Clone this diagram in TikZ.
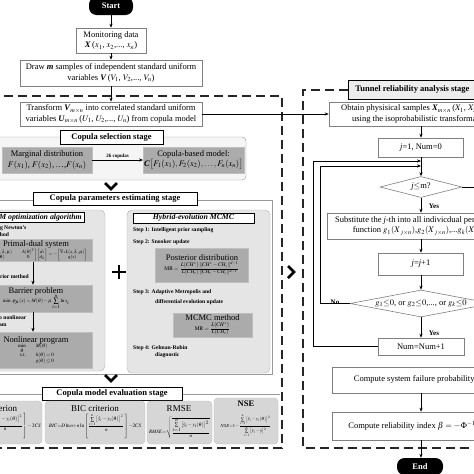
\documentclass[tikz,border=0pt]{standalone}
\usepackage{amsmath}
\usepackage{mathptmx}
\usepackage[no-math]{fontspec}
\setmainfont{Liberation Serif}
\usetikzlibrary{arrows.meta,shapes.geometric}
\tikzset{
  arr/.style={-{Stealth[length=4pt,width=3.2pt]}, line width=0.6pt, draw=black},
  plainline/.style={line width=0.6pt, draw=black},
  dashbox/.style={line width=1.1pt, dash pattern=on 9pt off 5pt, draw=black!85},
  wbox/.style={draw=black!50, line width=0.6pt, fill=white, inner sep=1pt, align=center,
    font=\fontsize{8.5}{10.5}\selectfont},
  gbox/.style={draw=black!25, line width=0.4pt, fill=black!33, inner sep=1pt, align=center,
    font=\fontsize{8.5}{10.5}\selectfont},
  stagebox/.style={draw=black, line width=0.9pt, fill=white, inner sep=1pt, align=center,
    font=\bfseries\fontsize{8.5}{10}\selectfont},
  tbox/.style={draw=black, line width=0.7pt, fill=white, inner ysep=1pt, inner xsep=3pt,
    minimum height=10, font=\bfseries\itshape\fontsize{7.8}{9}\selectfont},
  term/.style={fill=black, rounded corners=7.5pt, text=white, inner sep=1pt,
    font=\bfseries\fontsize{8.5}{10}\selectfont},
  diam/.style={diamond, draw=black!50, line width=0.6pt, fill=white, inner sep=0pt,
    font=\fontsize{8.5}{10}\selectfont},
  panel/.style={draw=black!30, line width=0.4pt, fill=black!10, rounded corners=5pt},
  frame/.style={draw=black!40, line width=0.4pt},
  evpanel/.style={draw=black!25, line width=0.4pt, fill=black!16, rounded corners=4pt},
  evtitle/.style={inner sep=0pt, font=\fontsize{9}{10}\selectfont},
  evform/.style={inner sep=0pt, font=\fontsize{5.2}{6}\selectfont},
  steptxt/.style={font=\bfseries\fontsize{5.6}{7}\selectfont, inner sep=0pt, align=left},
  sidetxt/.style={font=\bfseries\fontsize{5.6}{7}\selectfont, inner sep=0pt, align=center},
  yn/.style={font=\bfseries\fontsize{7}{8}\selectfont, inner sep=0pt},
  chev/.style={line width=2.6pt, draw=black, line join=miter}
}
\begin{document}
\begin{tikzpicture}[x=1pt,y=-1pt]
\useasboundingbox (0,0) rectangle (474,474);
\fill[white] (0,0) rectangle (474,474);
\clip (0,0) rectangle (474,474);

% dashed stage frames
\draw[dashbox] (-10,96) -- (282,96) -- (282,448) -- (-10,448);
\draw[dashbox] (530,90) -- (303,90) -- (303,448) -- (530,448);

% ---------- left column top ----------
\node[term, minimum width=44, minimum height=18] (start) at (111,6) {Start};
\node[wbox, minimum width=70, minimum height=25] (mon) at (111,40.5)
  {Monitoring data\\ \textbf{\textit{X}}\,($x_1$, $x_2$,..., $x_n$)};
\node[wbox, minimum width=182, minimum height=26] (drw) at (111,73)
  {Draw \textbf{\textit{m}} samples of independent standard uniform\\ variables \textbf{\textit{V}}\,($V_1$, $V_2$,..., $V_n$)};
\node[wbox, minimum width=182, minimum height=24] (trf) at (111,114)
  {Transform \textbf{\textit{V}}$_{m\times n}$ into correlated standard uniform\\ variables \textbf{\textit{U}}$_{m\times n}$\,($U_1$, $U_2$,..., $U_n$) from copula model};
\draw[arr] (start) -- (mon);
\draw[arr] (mon) -- (drw);
\draw[arr] (drw) -- (trf);

% ---------- copula selection ----------
\draw[frame, fill=black!4, rounded corners=4pt] (-10,137) rectangle (246,180);
\node[stagebox, minimum width=103, minimum height=14] (sel) at (111.5,137) {Copula selection stage};
\node[gbox, minimum width=90, minimum height=26] (marg) at (47,160)
  {Marginal distribution\\ $F(x_1)$, $F(x_2)$,\,\dots,$F(x_n)$};
\node[gbox, minimum width=97, minimum height=26] (cop) at (193.5,160)
  {Copula-based model:\\ \textbf{\textit{C}}$\big[F_1(x_1), F_2(x_2), \dots, F_n(x_n)\big]$};
\draw[arr] (marg.east) -- node[above=1pt, font=\bfseries\fontsize{5}{6}\selectfont, inner sep=0pt] (c26) {26 copulas} (cop.west);
\draw[chev] (105,183) -- (111,189) -- (117,183);

% ---------- parameter estimation ----------
\draw[frame] (-10,200) -- (272,200) -- (272,374) -- (-10,374);
\node[stagebox, minimum width=164, minimum height=13] (par) at (115,198.5) {Copula parameters estimating stage};
\draw[panel] (-10,210) rectangle (105,371);
\draw[panel] (127,210) rectangle (270,373);
\node[tbox, anchor=east] (ipm) at (85,217.5) {IPM optimization algorithm};
\node[tbox, minimum width=121] (hyb) at (193.5,218) {Hybrid-evolution MCMC};

% IPM chain
\coordinate (ax) at (33,0);
\node[sidetxt] (lab1) at (0,231) {Considering Newton's\\ method};
\node[gbox, minimum width=112, minimum height=21] (pd) at (36,250.5)
  {Primal-dual system\\[-1pt] {\fontsize{4.8}{5}\selectfont $\begin{bmatrix}\nabla^2 L(x,\lambda,\mu) & A(\theta)^T\\ A(\theta) & 0\end{bmatrix}\!\begin{bmatrix}d_x\\ d_\lambda\end{bmatrix}=-\begin{bmatrix}\nabla_x L(x,\lambda,\mu)\\ q(x)\end{bmatrix}$}};
\node[sidetxt, anchor=east] (lab2) at (29,276.5) {Interior method};
\node[gbox, minimum width=112, minimum height=27] (bar) at (36,298.5)
  {Barrier problem\\[-1pt] {\fontsize{5}{5.5}\selectfont $\min\ \varphi_\mu(x)=M(\theta)-\mu\displaystyle\sum_{i=1}^{n}\ln x_i$}};
\node[sidetxt] (lab3) at (-4,322) {Transform into nonlinear\\ program};
\node[gbox, minimum width=112, minimum height=36] (nlp) at (36,350)
  {Nonlinear program\\[-1pt] {\fontsize{5}{5.5}\selectfont $\begin{array}{rl}\min\limits_{\theta} & M(\theta)\\ \text{s.t.} & h(\theta)=0\\ & g(\theta)\le 0\end{array}$}};
\draw[arr] (pd.south -| ax) -- (bar.north -| ax);
\draw[arr] (bar.south -| ax) -- (nlp.north -| ax);

% plus
\draw[line width=1.3pt] (112,272) -- (126,272) (119,265) -- (119,279);

% MCMC chain
\node[steptxt, anchor=west] (s1) at (133,230) {Step 1: Intelligent prior sampling};
\node[steptxt, anchor=west] (s2) at (133,242) {Step 2: Snooker update};
\node[gbox, minimum width=93, minimum height=34] (post) at (202,265)
  {Posterior distribution\\[-1pt] {\fontsize{5.5}{6}\selectfont $\mathrm{MR}=\dfrac{L(CH^{*})\,\|CH^{*}-CH_{z}\|^{d-1}}{L(CH_{r})\,\|CH_{r}-CH_{z}\|^{d-1}}$}};
\node[steptxt, anchor=west] (s3) at (133,292) {Step 3: Adaptive Metropolis and};
\node[steptxt, anchor=west] (s3b) at (155,302) {differential evolution update};
\node[gbox, minimum width=79, minimum height=24] (mcm) at (212.5,325)
  {MCMC method\\[-1pt] {\fontsize{5.5}{6}\selectfont $\mathrm{MR}=\dfrac{L(CH^{*})}{L(CH_{r})}$}};
\node[steptxt, anchor=west] (s4) at (133,348) {Step 4: Gelman-Rubin};
\node[steptxt, anchor=west] (s4b) at (155,355.5) {diagnostic};

% ---------- evaluation ----------
\draw[chev] (105,375) -- (111,381) -- (117,375);
\draw[frame] (-10,394) -- (280,394);
\node[stagebox, minimum width=140, minimum height=13] (evs) at (112,393.5) {Copula model evaluation stage};
\draw[evpanel] (-60,401) rectangle (42,444);
\draw[evpanel] (45,401) rectangle (145,444);
\draw[evpanel] (147,401) rectangle (212,444);
\draw[evpanel] (214,398) rectangle (278,444);
\node[evtitle] (aict) at (-7,408.5) {AIC criterion};
\node[evform, anchor=east] (aicf) at (41,426)
  {$AIC=n\ln\left[\dfrac{\sum\limits_{i=1}^{n}\big[\hat y_i-y_i(\theta)\big]^2}{n}\right]-2CS$};
\node[evtitle] (bict) at (95,408.5) {BIC criterion};
\node[evform] (bicf) at (95,426.5)
  {$BIC{=}D\ln n{+}n\ln\left[\dfrac{\sum\limits_{i=1}^{n}\big[\hat y_i-y_i(\theta)\big]^2}{n}\right]{-}2CS$};
\node[evtitle] (rmset) at (179,408.5) {RMSE};
\node[evform, font=\fontsize{5}{6}\selectfont] (rmsef) at (179.5,428)
  {$RMSE{=}\sqrt{\dfrac{\sum\limits_{i=1}^{n}\big[\hat y_i-y_i(\theta)\big]^2}{n}}$};
\node[evtitle, font=\bfseries\fontsize{8.5}{10}\selectfont] (nset) at (246,404) {NSE};
\node[evform, font=\fontsize{4.6}{5.5}\selectfont] (nsef) at (246,426)
  {$NSE{=}1{-}\dfrac{\sum\limits_{i=1}^{n}\big[\hat y_i-y_i(\theta)\big]^2}{\sum\limits_{i=1}^{n}\big[\hat y_i-\bar y\big]^2}$};

% chevron between stages
\draw[chev] (288,266) -- (294,272) -- (288,278);

% ---------- right column ----------
\node[stagebox, anchor=west, fill=black!7, minimum height=19, inner xsep=7pt] (tun) at (348,89.5) {Tunnel reliability analysis stage};
\node[wbox, minimum width=184, minimum height=24] (obt) at (421,114)
  {Obtain physisical samples \textbf{\textit{X}}$_{m\times n}$\,($X_1$, $X_2$,..., $X_n$)\\ using the isoprobabilistic transformation};
\draw[arr] (trf.east) -- (obt.west);
\node[wbox, minimum width=85, minimum height=19] (j1) at (421,147.5) {\textit{j}=1, Num=0};
\node[diam, minimum width=82, minimum height=21, aspect=3.9] (d1) at (421,187) {\textit{j}$\le$m?};
\node[wbox, minimum width=188, minimum height=26] (sub) at (421,226)
  {Substitute the \textit{j}-th into all indivicdual performance\\ function $g_1(\boldsymbol{X}_{j\times n})$,$g_2(\boldsymbol{X}_{j\times n})$,...$g_k(\boldsymbol{X}_{j\times n})$};
\node[wbox, minimum width=85, minimum height=22] (jj) at (421,264) {\textit{j}=\textit{j}+1};
\node[diam, minimum width=142, minimum height=27, aspect=5.2] (d2) at (421,303.5)
  {$g_1{\le}0$, or $g_2{\le}0$,..., or $g_k{\le}0$};
\node[wbox, minimum width=86, minimum height=17] (num) at (421,346.5) {Num=Num+1};
\node[wbox, minimum width=178, minimum height=26] (fail) at (421,380)
  {Compute system failure probability $p_{fs}$};
\node[wbox, minimum width=178, minimum height=28] (rel) at (421,426)
  {Compute reliability index $\beta=-\Phi^{-1}(p_{fs})$};
\node[term, minimum width=46, minimum height=17] (end) at (420,466.5) {End};

\coordinate (m1) at (421,161);
\coordinate (m2) at (421,166);
\coordinate (L1) at (313,161);
\coordinate (L2) at (320,166);
\coordinate (ex) at (480,187);
\draw[arr] (obt) -- (j1);
\draw[arr] (j1) -- (d1);
\draw[arr] (d1) -- (sub);
\draw[arr] (sub) -- (jj);
\draw[arr] (jj) -- (d2);
\draw[arr] (d2) -- (num);
\draw[arr] (fail) -- (rel);
\draw[arr] (rel.south) -- (end.north -| rel.south);
\draw[arr] (num.west) -| (L1) -- (m1);
\draw[arr] (d2.west) -| (L2) -- (m2);
\draw[plainline] (d1.east) -- (ex);
\node[yn] (y1) at (434,206) {Yes};
\node[yn] (n2) at (335,302) {No};
\node[yn] (y2) at (434,333) {Yes};
\end{tikzpicture}
\end{document}
